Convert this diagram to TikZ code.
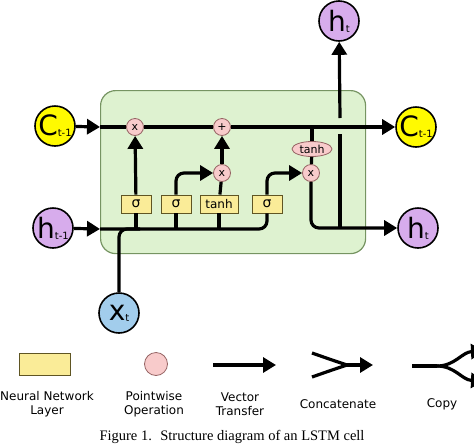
\documentclass[tikz,border=0pt]{standalone}
\usepackage{fontspec}
\setsansfont{DejaVu Sans}
\newfontfamily\capfont{Liberation Serif}
\usetikzlibrary{arrows.meta,shapes.geometric}
\definecolor{cellgreen}{RGB}{222,242,208}
\definecolor{celledge}{RGB}{118,148,98}
\definecolor{layeryellow}{RGB}{250,236,152}
\definecolor{layeredge}{RGB}{95,85,35}
\definecolor{opspink}{RGB}{248,203,203}
\definecolor{opsedge}{RGB}{150,100,100}
\definecolor{cyellow}{RGB}{255,250,0}
\definecolor{hpurple}{RGB}{215,172,236}
\definecolor{xblue}{RGB}{162,205,236}
\newcommand{\cellvar}[2]{{\fontsize{28}{28}\selectfont #1}\raisebox{-1pt}{\fontsize{10}{10}\selectfont #2}}

\begin{document}
\begin{tikzpicture}[x=1pt, y=-1pt, font=\sffamily,
	wire/.style={line width=3.2pt},
	vec/.style={line width=3.2pt, -{Triangle[length=13pt,width=15pt]}},
	layer/.style={draw=layeredge, line width=0.9pt, fill=layeryellow, minimum width=30pt, minimum height=18pt, inner sep=1pt, font=\sffamily\fontsize{14}{14}\selectfont},
	pointop/.style={circle, draw=opsedge, line width=0.8pt, fill=opspink, minimum size=17pt, inner sep=0pt, font=\sffamily\fontsize{11}{11}\selectfont},
	state/.style={circle, draw=black, line width=1.6pt, minimum size=40pt, inner sep=0pt},
	legendtext/.style={align=center, font=\sffamily\fontsize{12}{14}\selectfont}]
			\useasboundingbox (0,0) rectangle (474,445);
			\node[draw=celledge, line width=1.2pt, fill=cellgreen, rounded corners=15, minimum width=265pt, minimum height=163pt, anchor=north west] (cell) at (100,90) {};
			\node[state, fill=cyellow] (cl) at (55,126) {\cellvar{C}{t-1}};
			\node[state, fill=cyellow] (cr) at (416,127) {\cellvar{C}{t-1}};
			\node[state, fill=hpurple] (hl) at (53,228) {\cellvar{h}{t-1}};
			\node[state, fill=hpurple] (hr) at (418,228) {\cellvar{h}{t}};
			\node[state, fill=hpurple] (htop) at (339,21) {\cellvar{h}{t}};
			\node[state, fill=xblue] (xt) at (119,313) {\cellvar{x}{t}};
			\node[pointop] (m1) at (135,127) {x};
			\node[pointop] (p1) at (222,127) {+};
			\node[pointop] (m2) at (222,173) {x};
			\node[pointop] (m3) at (311,173) {x};
			\node[ellipse, draw=opsedge, line width=0.8pt, fill=opspink, minimum width=40pt, minimum height=15pt, inner sep=0pt, font=\sffamily\fontsize{11}{11}\selectfont] (th) at (312,149) {tanh};
			\node[layer] (s1) at (136,204) {σ};
			\node[layer] (s2) at (176,204) {σ};
			\node[layer, minimum width=38pt, font=\sffamily\fontsize{12}{12}\selectfont] (tg) at (219,204) {tanh};
			\node[layer] (s4) at (267,204) {σ};
			\coordinate (cin) at (100,127);
			\coordinate (hin) at (100,229);
			\coordinate (xjoin) at (140,229);
			\coordinate (hup) at (340,228);
			\coordinate (gapb) at (340,134);
			\coordinate (gapt) at (340,118);
			\draw[vec] (cl) -- (cin);
			\draw[wire] (cin) -- (m1);
			\draw[wire] (m1) -- (p1);
			\draw[vec] (p1) -- (cr);
			\draw[vec] (hl) -- (hin);
			\draw[wire, rounded corners=8] (hin) -| (s4.south);
			\draw[wire, rounded corners=8] (xt) |- (xjoin);
			\draw[wire] (s1.south) -- (s1 |- hin);
			\draw[wire] (s2.south) -- (s2 |- hin);
			\draw[wire] (tg.south) -- (tg |- hin);
			\draw[vec] (s1) -- (m1);
			\draw[wire] (tg) -- (m2);
			\draw[vec] (m2) -- (p1);
			\draw[vec, rounded corners=8] (s2.north) |- (m2);
			\draw[vec, rounded corners=8] (s4.north) |- (m3);
			\draw[wire] (th |- cin) -- (th);
			\draw[wire] (th) -- (m3);
			\draw[vec, rounded corners=8] (m3) |- (hr);
			\draw[wire] (hup) -- (gapb);
			\draw[vec] (gapt) -- (htop);
			\node[draw=layeredge, line width=0.9pt, fill=layeryellow, minimum width=51pt, minimum height=22pt] (lglayer) at (44.5,364) {};
			\node[circle, draw=opsedge, line width=0.8pt, fill=opspink, minimum size=23pt] (lgop) at (156,364) {};
			\coordinate (vs) at (213,365);
			\coordinate (ve) at (276,365);
			\coordinate (ca) at (312,353);
			\coordinate (cb) at (312,377);
			\coordinate (cm) at (347,365);
			\coordinate (ce) at (373,365);
			\coordinate (ks) at (412,366);
			\coordinate (km) at (437,366);
			\coordinate (ka) at (484,351);
			\coordinate (kb) at (484,381);
			\draw[vec] (vs) -- (ve);
			\draw[wire] (ca) .. controls (332,360) .. (cm);
			\draw[wire] (cb) .. controls (332,370) .. (cm);
			\draw[vec] (cm) -- (ce);
			\draw[wire] (ks) -- (km);
			\draw[vec] (km) .. controls (455,366) and (462,352) .. (ka);
			\draw[vec] (km) .. controls (455,366) and (462,380) .. (kb);
			\node[legendtext] (lt1) at (47,404) {Neural Network\\Layer};
			\node[legendtext] (lt2) at (154,404) {Pointwise\\Operation};
			\node[legendtext] (lt3) at (240,404) {Vector\\Transfer};
			\node[legendtext] (lt4) at (338,404) {Concatenate};
			\node[legendtext] (lt5) at (442,404) {Copy};
			\node[anchor=base, font=\capfont\fontsize{14.5}{14.5}\selectfont] (cap) at (232,440) {Figure 1.~ Structure diagram of an LSTM cell};
		\end{tikzpicture}
\end{document}
